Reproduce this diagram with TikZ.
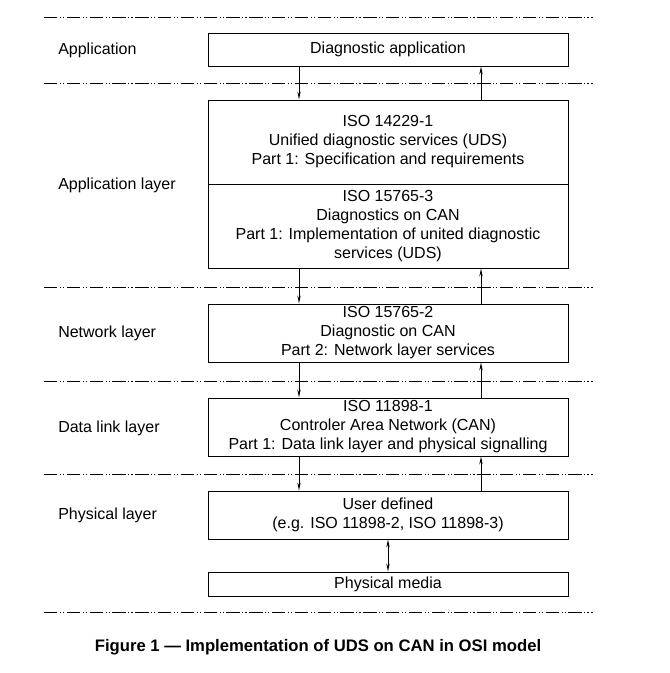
\documentclass[tikz,border=0pt]{standalone}
\usepackage{fontspec}
\setmainfont{Liberation Sans}
\usetikzlibrary{arrows.meta}
\begin{document}
\begin{tikzpicture}[x=0.75pt,y=-0.75pt,
 sep/.style={line width=0.7pt,dash pattern=on 10pt off 2pt on 0.8pt off 1.5pt on 0.8pt off 2pt},
 box/.style={draw,line width=0.7pt,minimum width=270pt,align=center,inner sep=0pt,font=\fontsize{12}{14.2}\selectfont},
 lab/.style={anchor=west,inner sep=0pt,font=\fontsize{12}{14}\selectfont},
 arr/.style={line width=0.7pt,-{Stealth[length=6pt,width=2.5pt]}},
 darr/.style={line width=0.7pt,{Stealth[length=6pt,width=2.5pt]}-{Stealth[length=6pt,width=2.5pt]}}]
\useasboundingbox (0,0) rectangle (669,673);
\foreach \y in {17,83,287,381,474,612} \draw[sep] (44,\y) -- (593,\y);
\node[box,minimum height=24.75pt] (app) at (388,49.5) {Diagnostic application};
\node[box,minimum height=63pt] (uds) at (388,142) {ISO 14229-1\\Unified diagnostic services (UDS)\\Part 1: Specification and requirements};
\node[box,minimum height=63pt] (can) at (388,226) {ISO 15765-3\\Diagnostics on CAN\\Part 1: Implementation of united diagnostic\\services (UDS)};
\node[box,minimum height=43.5pt] (net) at (388,333) {ISO 15765-2\\Diagnostic on CAN\\Part 2: Network layer services};
\node[box,minimum height=43.5pt] (dl) at (388,427) {ISO 11898-1\\Controler Area Network (CAN)\\Part 1: Data link layer and physical signalling};
\node[box,minimum height=36pt] (usr) at (388,515) {User defined\\(e.g. ISO 11898-2, ISO 11898-3)};
\node[box,minimum height=18pt] (pm) at (388,584) {Physical media};
\node[lab] (l1) at (58,50) {Application};
\node[lab] (l2) at (58,185) {Application layer};
\node[lab] (l3) at (58,333) {Network layer};
\node[lab] (l4) at (58,428) {Data link layer};
\node[lab] (l5) at (58,515) {Physical layer};
\foreach \a/\b in {app/uds,can/net,net/dl,dl/usr}{
 \draw[arr] (\a.south -| 299,0) -- (\b.north -| 299,0);
 \draw[arr] (\b.north -| 481,0) -- (\a.south -| 481,0);
}
\draw[darr] (usr) -- (pm);
\node[font=\bfseries\fontsize{12.5}{14}\selectfont] (cap) at (318,647) {Figure 1 — Implementation of UDS on CAN in OSI model};
\end{tikzpicture}
\end{document}
